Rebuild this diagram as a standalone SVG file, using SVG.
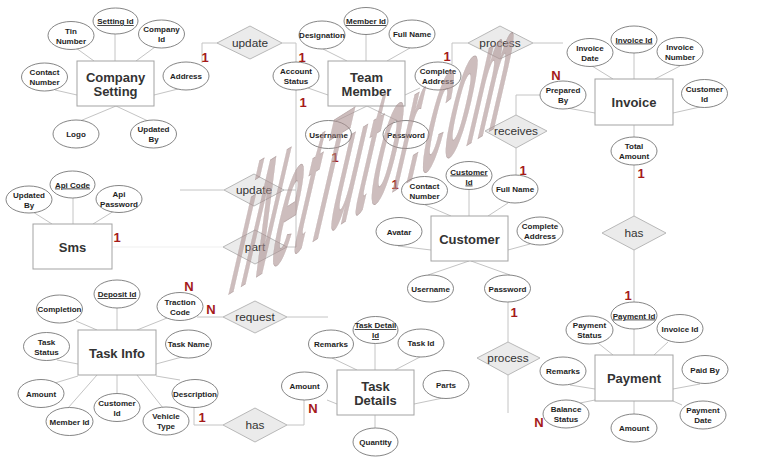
<svg xmlns="http://www.w3.org/2000/svg" width="768" height="474" viewBox="0 0 768 474">
<style>
text{font-family:"Liberation Sans",Arial,sans-serif;text-anchor:middle}
.e{fill:#fff;stroke:#a3a3a3;stroke-width:1}
.a{fill:#fff;stroke:#666;stroke-width:0.8}
.r{fill:#ebebeb;stroke:#b8b8b8;stroke-width:1}
.c{fill:none;stroke:#c4c4c4;stroke-width:1}
.t{font-size:8px;font-weight:bold;fill:#1e1e1e}
.u{text-decoration:underline}
.et{font-size:13px;font-weight:bold;fill:#333}
.rt{font-size:11.8px;fill:#333}
.n{font-size:13px;font-weight:bold;fill:#a51a1a}
.wm{font-size:90px;font-weight:bold;letter-spacing:6px;fill:#ad9292;stroke:#8a6f6f;stroke-width:0.5}
</style>
<rect width="768" height="474" fill="#fff"/>

<g id="connectors">
<line class="c" x1="115" y1="34" x2="115" y2="61"/>
<line class="c" x1="76" y1="48" x2="94" y2="61"/>
<line class="c" x1="155" y1="47" x2="136" y2="61"/>
<line class="c" x1="55" y1="90" x2="77" y2="95"/>
<line class="c" x1="178" y1="89" x2="154" y2="95"/>
<line class="c" x1="80" y1="121" x2="116" y2="106"/>
<line class="c" x1="148" y1="121" x2="116" y2="106"/>
<line class="c" x1="323" y1="49" x2="347" y2="61"/>
<line class="c" x1="366" y1="34" x2="366" y2="61"/>
<line class="c" x1="410" y1="48" x2="387" y2="61"/>
<line class="c" x1="308" y1="88" x2="328" y2="95"/>
<line class="c" x1="420" y1="88" x2="405" y2="95"/>
<line class="c" x1="336" y1="121" x2="367" y2="106"/>
<line class="c" x1="398" y1="121" x2="367" y2="106"/>
<line class="c" x1="592" y1="66" x2="613" y2="79"/>
<line class="c" x1="634" y1="53" x2="634" y2="79"/>
<line class="c" x1="680" y1="66" x2="655" y2="79"/>
<line class="c" x1="567" y1="108" x2="595" y2="113"/>
<line class="c" x1="700" y1="107" x2="673" y2="113"/>
<line class="c" x1="634" y1="125" x2="634" y2="137"/>
<line class="c" x1="73" y1="198" x2="73" y2="224"/>
<line class="c" x1="33" y1="212" x2="52" y2="224"/>
<line class="c" x1="114" y1="211" x2="93" y2="224"/>
<line class="c" x1="469" y1="189" x2="469" y2="216"/>
<line class="c" x1="423" y1="204" x2="451" y2="216"/>
<line class="c" x1="508" y1="203" x2="488" y2="216"/>
<line class="c" x1="398" y1="246" x2="431" y2="250"/>
<line class="c" x1="530" y1="244" x2="508" y2="250"/>
<line class="c" x1="428" y1="275" x2="469" y2="261"/>
<line class="c" x1="510" y1="275" x2="471" y2="261"/>
<line class="c" x1="117" y1="308" x2="117" y2="330"/>
<line class="c" x1="76" y1="321" x2="97" y2="330"/>
<line class="c" x1="167" y1="318" x2="137" y2="330"/>
<line class="c" x1="57" y1="360" x2="78" y2="364"/>
<line class="c" x1="182" y1="357" x2="156" y2="364"/>
<line class="c" x1="55" y1="383" x2="78" y2="376"/>
<line class="c" x1="180" y1="380" x2="156" y2="376"/>
<line class="c" x1="68" y1="408" x2="97" y2="375"/>
<line class="c" x1="117" y1="393" x2="117" y2="375"/>
<line class="c" x1="163" y1="408" x2="137" y2="375"/>
<line class="c" x1="375" y1="343" x2="375" y2="370"/>
<line class="c" x1="332" y1="358" x2="357" y2="370"/>
<line class="c" x1="420" y1="357" x2="395" y2="370"/>
<line class="c" x1="327" y1="400" x2="337" y2="404"/>
<line class="c" x1="443" y1="398" x2="414" y2="404"/>
<line class="c" x1="375" y1="415" x2="375" y2="428"/>
<line class="c" x1="634" y1="329" x2="634" y2="355"/>
<line class="c" x1="598" y1="343" x2="613" y2="355"/>
<line class="c" x1="668" y1="342" x2="654" y2="355"/>
<line class="c" x1="570" y1="385" x2="595" y2="389"/>
<line class="c" x1="700" y1="384" x2="673" y2="389"/>
<line class="c" x1="580" y1="403" x2="595" y2="400"/>
<line class="c" x1="634" y1="401" x2="634" y2="414"/>
<line class="c" x1="682" y1="405" x2="673" y2="401"/>
<polyline class="c" points="202,63 202,43 218,43"/>
<polyline class="c" points="282,43 296,43 296,62"/>
<polyline class="c" points="296,90 296,247 287,247"/>
<line class="c" x1="180" y1="190" x2="224" y2="190"/>
<line class="c" x1="283" y1="190" x2="296" y2="190"/>
<line x1="112" y1="247" x2="223" y2="247" stroke="#efefef" stroke-width="1"/>
<line class="c" x1="197" y1="317" x2="223" y2="317"/>
<line class="c" x1="287" y1="317" x2="328" y2="317"/>
<polyline class="c" points="194,407 194,425 223,425"/>
<polyline class="c" points="287,425 304,425 304,399"/>
<polyline class="c" points="452,64 452,43 468,43"/>
<line class="c" x1="533" y1="43" x2="563" y2="43"/>
<polyline class="c" points="540,95 516,95 516,115"/>
<line class="c" x1="516" y1="148" x2="516" y2="175"/>
<line class="c" x1="634" y1="165" x2="634" y2="216"/>
<line class="c" x1="634" y1="250" x2="634" y2="302"/>
<line class="c" x1="508" y1="300" x2="508" y2="342"/>
<line class="c" x1="508" y1="375" x2="508" y2="413"/>
</g>

<g id="company-setting">
<rect class="e" x="77" y="61" width="77" height="45"/>
<text class="et" x="115.5" y="82">Company</text>
<text class="et" x="115.5" y="96">Setting</text>
</g>
<g id="team-member">
<rect class="e" x="328" y="61" width="77" height="45"/>
<text class="et" x="366.5" y="82">Team</text>
<text class="et" x="366.5" y="96">Member</text>
</g>
<g id="invoice">
<rect class="e" x="595" y="79" width="78" height="46"/>
<text class="et" x="634" y="107">Invoice</text>
</g>
<g id="sms">
<rect class="e" x="33" y="224" width="79" height="45"/>
<text class="et" x="72.5" y="251.5">Sms</text>
</g>
<g id="customer">
<rect class="e" x="431" y="216" width="77" height="45"/>
<text class="et" x="469.5" y="243.5">Customer</text>
</g>
<g id="task-info">
<rect class="e" x="78" y="330" width="78" height="45"/>
<text class="et" x="117" y="357.5">Task Info</text>
</g>
<g id="task-details">
<rect class="e" x="337" y="370" width="77" height="45"/>
<text class="et" x="375.5" y="391">Task</text>
<text class="et" x="375.5" y="405">Details</text>
</g>
<g id="payment">
<rect class="e" x="595" y="355" width="78" height="46"/>
<text class="et" x="634" y="383">Payment</text>
</g>

<g id="rel-update-1"><polygon class="r" points="217,43 250,26 282,43 250,59"/><text class="rt" x="250" y="47">update</text></g>
<g id="rel-update-2"><polygon class="r" points="224,190 254,174 284,190 254,206"/><text class="rt" x="254" y="194">update</text></g>
<g id="rel-part"><polygon class="r" points="223,247 255,230 287,247 255,264"/><text class="rt" x="255" y="251">part</text></g>
<g id="rel-request"><polygon class="r" points="223,317 255,301 287,317 255,333"/><text class="rt" x="255" y="321">request</text></g>
<g id="rel-has-1"><polygon class="r" points="223,425 255,408 287,425 255,442"/><text class="rt" x="255" y="429">has</text></g>
<g id="rel-process-1"><polygon class="r" points="468,43 500,26 533,43 500,59"/><text class="rt" x="500" y="47">process</text></g>
<g id="rel-receives"><polygon class="r" points="485,131 516,115 547,131 516,148"/><text class="rt" x="516" y="135">receives</text></g>
<g id="rel-has-2"><polygon class="r" points="602,233 634,216 666,233 634,250"/><text class="rt" x="634" y="237">has</text></g>
<g id="rel-process-2"><polygon class="r" points="477,358 508,342 540,358 508,375"/><text class="rt" x="508" y="362">process</text></g>

<g id="cs-setting-id"><ellipse class="a" cx="115.5" cy="21" rx="22.5" ry="13"/><text class="t u" x="115.5" y="24">Setting Id</text></g>
<g id="cs-tin-number"><ellipse class="a" cx="71" cy="35.5" rx="23" ry="14"/><text class="t" x="71" y="33.5">Tin</text><text class="t" x="71" y="43.5">Number</text></g>
<g id="cs-company-id"><ellipse class="a" cx="161.5" cy="34" rx="23" ry="14"/><text class="t" x="161.5" y="32">Company</text><text class="t" x="161.5" y="42">Id</text></g>
<g id="cs-contact-number"><ellipse class="a" cx="44.5" cy="77" rx="23" ry="14"/><text class="t" x="44.5" y="75">Contact</text><text class="t" x="44.5" y="85">Number</text></g>
<g id="cs-address"><ellipse class="a" cx="186" cy="76" rx="23" ry="14"/><text class="t" x="186" y="79">Address</text></g>
<g id="cs-logo"><ellipse class="a" cx="76" cy="134" rx="23" ry="14"/><text class="t" x="76" y="137">Logo</text></g>
<g id="cs-updated-by"><ellipse class="a" cx="153.5" cy="134" rx="23" ry="14"/><text class="t" x="153.5" y="132">Updated</text><text class="t" x="153.5" y="142">By</text></g>

<g id="tm-member-id"><ellipse class="a" cx="366" cy="21" rx="22" ry="13.5"/><text class="t u" x="366" y="24">Member Id</text></g>
<g id="tm-designation"><ellipse class="a" cx="322" cy="35" rx="23" ry="14"/><text class="t" x="322" y="38">Designation</text></g>
<g id="tm-full-name"><ellipse class="a" cx="412" cy="34" rx="23" ry="14"/><text class="t" x="412" y="37">Full Name</text></g>
<g id="tm-account-status"><ellipse class="a" cx="296" cy="76" rx="23" ry="14"/><text class="t" x="296" y="74">Account</text><text class="t" x="296" y="84">Status</text></g>
<g id="tm-complete-address"><ellipse class="a" cx="438" cy="76" rx="23" ry="14"/><text class="t" x="438" y="74">Complete</text><text class="t" x="438" y="84">Address</text></g>
<g id="tm-username"><ellipse class="a" cx="328.5" cy="134.5" rx="23" ry="14"/><text class="t" x="328.5" y="137.5">Username</text></g>
<g id="tm-password"><ellipse class="a" cx="406" cy="134.5" rx="23" ry="14"/><text class="t" x="406" y="137.5">Password</text></g>

<g id="inv-invoice-id"><ellipse class="a" cx="634" cy="39.5" rx="23" ry="13.5"/><text class="t u" x="634" y="42.5">Invoice Id</text></g>
<g id="inv-invoice-date"><ellipse class="a" cx="590" cy="52.5" rx="23" ry="14"/><text class="t" x="590" y="50.5">Invoice</text><text class="t" x="590" y="60.5">Date</text></g>
<g id="inv-invoice-number"><ellipse class="a" cx="680" cy="51.5" rx="23" ry="14"/><text class="t" x="680" y="49.5">Invoice</text><text class="t" x="680" y="59.5">Number</text></g>
<g id="inv-prepared-by"><ellipse class="a" cx="563" cy="95" rx="23" ry="14"/><text class="t" x="563" y="93">Prepared</text><text class="t" x="563" y="103">By</text></g>
<g id="inv-customer-id"><ellipse class="a" cx="704.5" cy="93.5" rx="23" ry="14"/><text class="t" x="704.5" y="91.5">Customer</text><text class="t" x="704.5" y="101.5">Id</text></g>
<g id="inv-total-amount"><ellipse class="a" cx="634" cy="151" rx="23" ry="14"/><text class="t" x="634" y="149">Total</text><text class="t" x="634" y="159">Amount</text></g>

<g id="sms-api-code"><ellipse class="a" cx="72.5" cy="184.5" rx="22.5" ry="13.5"/><text class="t u" x="72.5" y="187.5">Api Code</text></g>
<g id="sms-updated-by"><ellipse class="a" cx="29" cy="199.5" rx="23" ry="13.5"/><text class="t" x="29" y="197.5">Updated</text><text class="t" x="29" y="207.5">By</text></g>
<g id="sms-api-password"><ellipse class="a" cx="119" cy="199" rx="23" ry="13.5"/><text class="t" x="119" y="197">Api</text><text class="t" x="119" y="207">Password</text></g>

<g id="cu-customer-id"><ellipse class="a" cx="469" cy="175.5" rx="23" ry="14"/><text class="t u" x="469" y="174.5">Customer</text><text class="t u" x="469" y="184.5">Id</text></g>
<g id="cu-contact-number"><ellipse class="a" cx="424.5" cy="190.5" rx="23" ry="14"/><text class="t" x="424.5" y="188.5">Contact</text><text class="t" x="424.5" y="198.5">Number</text></g>
<g id="cu-full-name"><ellipse class="a" cx="515" cy="189" rx="23" ry="14"/><text class="t" x="515" y="192">Full Name</text></g>
<g id="cu-avatar"><ellipse class="a" cx="399" cy="231.5" rx="23" ry="14"/><text class="t" x="399" y="234.5">Avatar</text></g>
<g id="cu-complete-address"><ellipse class="a" cx="540" cy="231" rx="23" ry="14"/><text class="t" x="540" y="229">Complete</text><text class="t" x="540" y="239">Address</text></g>
<g id="cu-username"><ellipse class="a" cx="430.5" cy="288.5" rx="23" ry="13.5"/><text class="t" x="430.5" y="291.5">Username</text></g>
<g id="cu-password"><ellipse class="a" cx="507.5" cy="288.5" rx="23" ry="13.5"/><text class="t" x="507.5" y="291.5">Password</text></g>

<g id="ti-deposit-id"><ellipse class="a" cx="117" cy="294" rx="23" ry="14"/><text class="t u" x="117" y="297">Deposit Id</text></g>
<g id="ti-completion"><ellipse class="a" cx="59.5" cy="309" rx="23" ry="14"/><text class="t" x="59.5" y="312">Completion</text></g>
<g id="ti-traction-code"><ellipse class="a" cx="180" cy="306.5" rx="23" ry="14"/><text class="t" x="180" y="304.5">Traction</text><text class="t" x="180" y="314.5">Code</text></g>
<g id="ti-task-status"><ellipse class="a" cx="46.5" cy="346.5" rx="23" ry="14"/><text class="t" x="46.5" y="344.5">Task</text><text class="t" x="46.5" y="354.5">Status</text></g>
<g id="ti-task-name"><ellipse class="a" cx="188.5" cy="344" rx="23" ry="14"/><text class="t" x="188.5" y="347">Task Name</text></g>
<g id="ti-amount"><ellipse class="a" cx="41" cy="393.5" rx="23" ry="14"/><text class="t" x="41" y="396.5">Amount</text></g>
<g id="ti-description"><ellipse class="a" cx="195" cy="393.5" rx="23" ry="14"/><text class="t" x="195" y="396.5">Description</text></g>
<g id="ti-member-id"><ellipse class="a" cx="69.5" cy="421.5" rx="23.5" ry="14"/><text class="t" x="69.5" y="424.5">Member Id</text></g>
<g id="ti-customer-id"><ellipse class="a" cx="117" cy="407.5" rx="23" ry="14"/><text class="t" x="117" y="405.5">Customer</text><text class="t" x="117" y="415.5">Id</text></g>
<g id="ti-vehicle-type"><ellipse class="a" cx="166" cy="421" rx="23" ry="14"/><text class="t" x="166" y="419">Vehicle</text><text class="t" x="166" y="429">Type</text></g>

<g id="td-task-detail-id"><ellipse class="a" cx="375.5" cy="330" rx="22.5" ry="13.5"/><text class="t u" x="375.5" y="328">Task Detail</text><text class="t u" x="375.5" y="338">Id</text></g>
<g id="td-remarks"><ellipse class="a" cx="331" cy="344" rx="22.5" ry="14"/><text class="t" x="331" y="347">Remarks</text></g>
<g id="td-task-id"><ellipse class="a" cx="421" cy="343" rx="23" ry="14"/><text class="t" x="421" y="346">Task Id</text></g>
<g id="td-amount"><ellipse class="a" cx="304.5" cy="386" rx="23" ry="14"/><text class="t" x="304.5" y="389">Amount</text></g>
<g id="td-parts"><ellipse class="a" cx="446" cy="384.5" rx="23" ry="14"/><text class="t" x="446" y="387.5">Parts</text></g>
<g id="td-quantity"><ellipse class="a" cx="375.5" cy="442" rx="22.5" ry="14"/><text class="t" x="375.5" y="445">Quantity</text></g>

<g id="pa-payment-id"><ellipse class="a" cx="634" cy="315.5" rx="23" ry="13.5"/><text class="t u" x="634" y="318.5">Payment Id</text></g>
<g id="pa-payment-status"><ellipse class="a" cx="589.5" cy="330" rx="23.5" ry="14"/><text class="t" x="589.5" y="328">Payment</text><text class="t" x="589.5" y="338">Status</text></g>
<g id="pa-invoice-id"><ellipse class="a" cx="680" cy="328.5" rx="23" ry="14"/><text class="t" x="680" y="331.5">Invoice Id</text></g>
<g id="pa-remarks"><ellipse class="a" cx="563" cy="371" rx="23" ry="14"/><text class="t" x="563" y="374">Remarks</text></g>
<g id="pa-paid-by"><ellipse class="a" cx="705" cy="369.5" rx="23" ry="14"/><text class="t" x="705" y="372.5">Paid By</text></g>
<g id="pa-balance-status"><ellipse class="a" cx="566" cy="414" rx="23" ry="14"/><text class="t" x="566" y="412">Balance</text><text class="t" x="566" y="422">Status</text></g>
<g id="pa-amount"><ellipse class="a" cx="634" cy="428" rx="23" ry="14"/><text class="t" x="634" y="431">Amount</text></g>
<g id="pa-payment-date"><ellipse class="a" cx="703" cy="415" rx="23" ry="14"/><text class="t" x="703" y="413">Payment</text><text class="t" x="703" y="423">Date</text></g>

<g id="labels">
<text class="n" x="205" y="62">1</text>
<text class="n" x="302" y="62">1</text>
<text class="n" x="303" y="107">1</text>
<text class="n" x="335" y="162">1</text>
<text class="n" x="395" y="189">1</text>
<text class="n" x="447" y="61">1</text>
<text class="n" x="556" y="80">N</text>
<text class="n" x="523" y="175">1</text>
<text class="n" x="641" y="178">1</text>
<text class="n" x="117" y="242">1</text>
<text class="n" x="189" y="291">N</text>
<text class="n" x="211" y="314">N</text>
<text class="n" x="628" y="300">1</text>
<text class="n" x="514" y="317">1</text>
<text class="n" x="202" y="422">1</text>
<text class="n" x="313" y="413">N</text>
<text class="n" x="539" y="427">N</text>
</g>

<g id="watermark" opacity="0.6">
<text class="wm" style="text-anchor:start" transform="matrix(0.403,-0.252,-0.473,2.045,226,296)">iNetTutor.com</text>
</g>
</svg>
